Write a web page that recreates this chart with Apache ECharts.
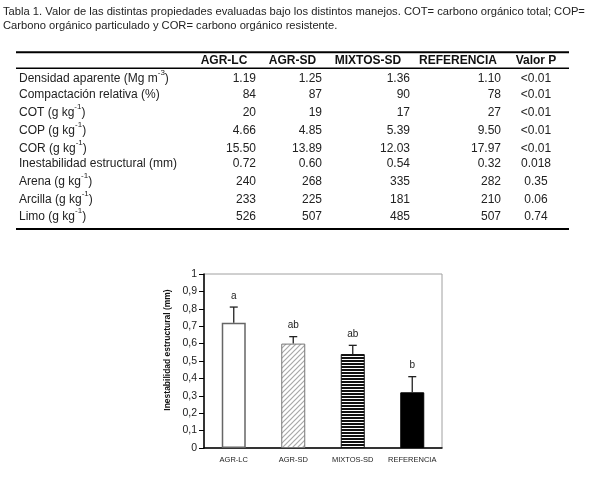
<!DOCTYPE html>
<html>
<head>
<meta charset="utf-8">
<script src="https://cdn.jsdelivr.net/npm/echarts@6/dist/echarts.min.js"></script>
<style>
  html, body { margin: 0; padding: 0; background: #fff; }
  #main { width: 590px; height: 477px; }
</style>
</head>
<body>
<div id="main"></div>
<script>
// tabla
const titleLines = [
    'Tabla 1. Valor de las distintas propiedades evaluadas bajo los distintos manejos. COT= carbono orgánico total; COP=',
    'Carbono orgánico particulado y COR= carbono orgánico resistente.'
];
const colHeaders = ['AGR-LC', 'AGR-SD', 'MIXTOS-SD', 'REFERENCIA', 'Valor P'];
const rowLabels = [
    'Densidad aparente (Mg m{sup|-3})',
    'Compactación relativa (%)',
    'COT (g kg{sup|-1})',
    'COP (g kg{sup|-1})',
    'COR (g kg{sup|-1})',
    'Inestabilidad estructural (mm)',
    'Arena (g kg{sup|-1})',
    'Arcilla (g kg{sup|-1})',
    'Limo (g kg{sup|-1})'
];
const colAgrLC = ['1.19', '84', '20', '4.66', '15.50', '0.72', '240', '233', '526'];
const colAgrSD = ['1.25', '87', '19', '4.85', '13.89', '0.60', '268', '225', '507'];
const colMixtos = ['1.36', '90', '17', '5.39', '12.03', '0.54', '335', '181', '485'];
const colRef = ['1.10', '78', '27', '9.50', '17.97', '0.32', '282', '210', '507'];
const colP = ['<0.01', '<0.01', '<0.01', '<0.01', '<0.01', '0.018', '0.35', '0.06', '0.74'];

// grafico
const categories = ['AGR-LC', 'AGR-SD', 'MIXTOS-SD', 'REFERENCIA'];
const barValues = [0.72, 0.60, 0.54, 0.32];
const errTop = [0.81, 0.64, 0.59, 0.41];
const letters = ['a', 'ab', 'ab', 'b'];
const yTickLabels = ['0', '0,1', '0,2', '0,3', '0,4', '0,5', '0,6', '0,7', '0,8', '0,9', '1'];

const FONT = '"Liberation Sans", Arial, sans-serif';

// tramas de las barras
function diagPattern() {
    let c = document.createElement('canvas');
    c.width = 5; c.height = 5;
    let g = c.getContext('2d');
    g.fillStyle = '#fff';
    g.fillRect(0, 0, 5, 5);
    g.strokeStyle = '#a8a8a8';
    g.lineWidth = 1.2;
    g.beginPath();
    g.moveTo(-1, 6); g.lineTo(6, -1);
    g.moveTo(-3.5, 3.5); g.lineTo(3.5, -3.5);
    g.moveTo(1.5, 8.5); g.lineTo(8.5, 1.5);
    g.stroke();
    return c;
}
function stripePattern() {
    let c = document.createElement('canvas');
    c.width = 4; c.height = 3;
    let g = c.getContext('2d');
    g.fillStyle = '#fff';
    g.fillRect(0, 0, 4, 3);
    g.fillStyle = '#111';
    g.fillRect(0, 0, 4, 2);
    return c;
}

const barStyles = [
    {color: '#fff', borderColor: '#666', borderWidth: 1.5},
    {color: {image: diagPattern(), repeat: 'repeat'}, borderColor: '#777', borderWidth: 1},
    {color: {image: stripePattern(), repeat: 'repeat'}, borderColor: '#111', borderWidth: 1},
    {color: '#000', borderColor: '#000', borderWidth: 1}
];

// posiciones de la tabla
const rowY = [79, 95, 112.7, 131, 149, 164, 181.5, 199.5, 217];
const headerX = [224, 292.5, 368, 458, 536];
const valueRight = [256, 322, 410, 501];

let graphics = [];
titleLines.forEach((t, i) => {
    graphics.push({
        type: 'text', x: 3, y: 12 + i * 13.5,
        style: {text: t, fontSize: 11.2, fontFamily: FONT, fill: '#222', verticalAlign: 'middle'}
    });
});
// filetes
[[52.3, 2], [68.3, 1.5], [229, 2]].forEach(r => {
    graphics.push({
        type: 'line',
        shape: {x1: 16, y1: r[0], x2: 569, y2: r[0]},
        style: {stroke: '#000', lineWidth: r[1]}
    });
});
colHeaders.forEach((h, i) => {
    graphics.push({
        type: 'text', x: headerX[i], y: 61,
        style: {text: h, fontSize: 12, fontWeight: 'bold', fontFamily: FONT, fill: '#111', align: 'center', verticalAlign: 'middle'}
    });
});
rowLabels.forEach((lab, i) => {
    graphics.push({
        type: 'text', x: 19, y: rowY[i],
        style: {
            text: lab, fontSize: 12, fontFamily: FONT, fill: '#222', verticalAlign: 'middle', lineHeight: 20,
            rich: {sup: {fontSize: 8, fontFamily: FONT, fill: '#222', verticalAlign: 'top', lineHeight: 8}}
        }
    });
    [colAgrLC, colAgrSD, colMixtos, colRef].forEach((col, j) => {
        graphics.push({
            type: 'text', x: valueRight[j], y: rowY[i],
            style: {text: col[i], fontSize: 12, fontFamily: FONT, fill: '#222', align: 'right', verticalAlign: 'middle'}
        });
    });
    graphics.push({
        type: 'text', x: headerX[4], y: rowY[i],
        style: {text: colP[i], fontSize: 12, fontFamily: FONT, fill: '#222', align: 'center', verticalAlign: 'middle'}
    });
});
// nombre del eje Y
graphics.push({
    type: 'text', x: 168, y: 350, rotation: Math.PI / 2,
    style: {
        text: 'Inestabilidad estructural (mm)', fontSize: 8.5, fontWeight: 'bold',
        fontFamily: FONT, fill: '#111', align: 'center', verticalAlign: 'middle'
    }
});

const chart = echarts.init(document.getElementById('main'));
chart.setOption({
    animation: false,
    backgroundColor: '#fff',
    graphic: graphics,
    grid: {
        left: 204, top: 274, width: 238, height: 174,
        show: true, borderColor: '#a0a0a0', borderWidth: 1
    },
    xAxis: {
        type: 'category',
        data: categories,
        axisLine: {lineStyle: {color: '#000', width: 1.5}},
        axisTick: {show: false},
        axisLabel: {interval: 0, fontSize: 7.5, fontFamily: FONT, color: '#222', margin: 8}
    },
    yAxis: {
        type: 'value',
        min: 0, max: 1, interval: 0.1,
        axisLine: {show: true, lineStyle: {color: '#000', width: 1.5}},
        axisTick: {show: true, length: 5, lineStyle: {color: '#000'}},
        splitLine: {show: false},
        axisLabel: {
            fontSize: 10.5, fontFamily: FONT, color: '#222', margin: 7,
            formatter: (v, i) => yTickLabels[i]
        }
    },
    series: [
        {
            type: 'bar',
            barWidth: 24,
            data: barValues.map((v, i) => ({value: v, itemStyle: barStyles[i]})),
            z: 2
        },
        {
            type: 'custom',
            data: categories.map((c, i) => [i, barValues[i], errTop[i]]),
            renderItem: (params, api) => {
                const x = api.coord([api.value(0), 0])[0];
                const yBar = api.coord([api.value(0), api.value(1)])[1];
                const yTop = api.coord([api.value(0), api.value(2)])[1];
                const st = {stroke: '#222', lineWidth: 1.3};
                return {
                    type: 'group',
                    children: [
                        {type: 'line', shape: {x1: x, y1: yBar, x2: x, y2: yTop}, style: st},
                        {type: 'line', shape: {x1: x - 4, y1: yTop, x2: x + 4, y2: yTop}, style: st},
                        {
                            type: 'text', x: x, y: yTop - 11,
                            style: {
                                text: letters[params.dataIndex], fontSize: 10, fontFamily: FONT,
                                fill: '#222', align: 'center', verticalAlign: 'middle'
                            }
                        }
                    ]
                };
            },
            z: 3
        }
    ]
});
</script>
</body>
</html>
